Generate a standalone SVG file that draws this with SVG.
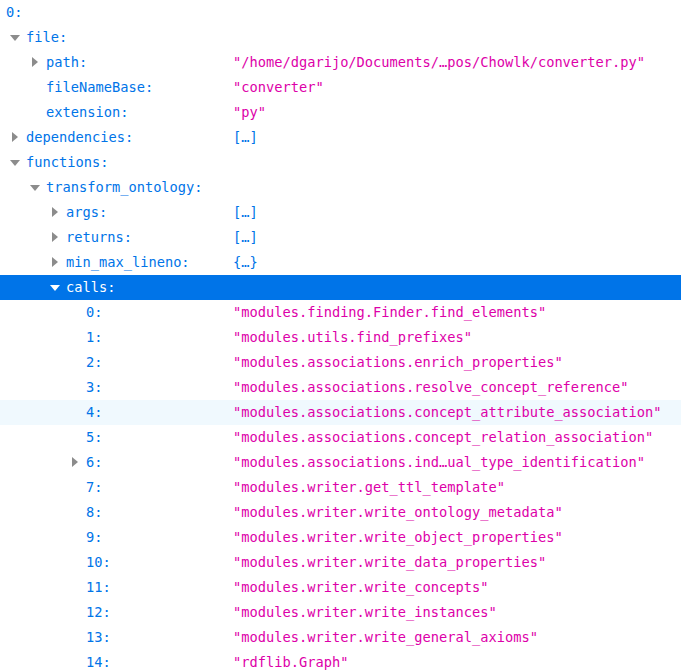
<svg xmlns="http://www.w3.org/2000/svg" width="681" height="671" viewBox="0 0 681 671">
<style>
text{font-family:"DejaVu Sans Mono",monospace;font-size:13.7px}
.k{fill:#0074e8}.s{fill:#dd00a9}.b{fill:#0074e8}
.t{fill:#8c8c8c}
</style>
<rect width="681" height="671" fill="#fff"/>
<rect x="0" y="275" width="681" height="25" fill="#0074e8"/>
<rect x="0" y="400" width="681" height="25" fill="#f0f9fe"/>
<g id="twisties" class="t">
<path d="M10 35h10l-5 6z"/>
<path d="M32 57v10l6-5z"/>
<path d="M12 132v10l6-5z"/>
<path d="M10 160h10l-5 6z"/>
<path d="M30 185h10l-5 6z"/>
<path d="M52 207v10l6-5z"/>
<path d="M52 232v10l6-5z"/>
<path d="M52 257v10l6-5z"/>
<path d="M50 285h10l-5 6z" fill="#fff"/>
<path d="M72 457v10l6-5z"/>
</g>
<g id="rows">
<text x="6" y="17" class="k">0:</text>
<text x="26" y="42" class="k">file:</text>
<text x="46" y="67" class="k">path:</text><text x="233" y="67" class="s">"/home/dgarijo/Documents/…pos/Chowlk/converter.py"</text>
<text x="46" y="92" class="k">fileNameBase:</text><text x="233" y="92" class="s">"converter"</text>
<text x="46" y="117" class="k">extension:</text><text x="233" y="117" class="s">"py"</text>
<text x="26" y="142" class="k">dependencies:</text><text x="233" y="142" class="b">[…]</text>
<text x="26" y="167" class="k">functions:</text>
<text x="46" y="192" class="k">transform_ontology:</text>
<text x="66" y="217" class="k">args:</text><text x="233" y="217" class="b">[…]</text>
<text x="66" y="242" class="k">returns:</text><text x="233" y="242" class="b">[…]</text>
<text x="66" y="267" class="k">min_max_lineno:</text><text x="233" y="267" class="b">{…}</text>
<text x="66" y="292" fill="#fff">calls:</text>
<text x="86" y="317" class="k">0:</text><text x="233" y="317" class="s">"modules.finding.Finder.find_elements"</text>
<text x="86" y="342" class="k">1:</text><text x="233" y="342" class="s">"modules.utils.find_prefixes"</text>
<text x="86" y="367" class="k">2:</text><text x="233" y="367" class="s">"modules.associations.enrich_properties"</text>
<text x="86" y="392" class="k">3:</text><text x="233" y="392" class="s">"modules.associations.resolve_concept_reference"</text>
<text x="86" y="417" class="k">4:</text><text x="233" y="417" class="s">"modules.associations.concept_attribute_association"</text>
<text x="86" y="442" class="k">5:</text><text x="233" y="442" class="s">"modules.associations.concept_relation_association"</text>
<text x="86" y="467" class="k">6:</text><text x="233" y="467" class="s">"modules.associations.ind…ual_type_identification"</text>
<text x="86" y="492" class="k">7:</text><text x="233" y="492" class="s">"modules.writer.get_ttl_template"</text>
<text x="86" y="517" class="k">8:</text><text x="233" y="517" class="s">"modules.writer.write_ontology_metadata"</text>
<text x="86" y="542" class="k">9:</text><text x="233" y="542" class="s">"modules.writer.write_object_properties"</text>
<text x="86" y="567" class="k">10:</text><text x="233" y="567" class="s">"modules.writer.write_data_properties"</text>
<text x="86" y="592" class="k">11:</text><text x="233" y="592" class="s">"modules.writer.write_concepts"</text>
<text x="86" y="617" class="k">12:</text><text x="233" y="617" class="s">"modules.writer.write_instances"</text>
<text x="86" y="642" class="k">13:</text><text x="233" y="642" class="s">"modules.writer.write_general_axioms"</text>
<text x="86" y="667" class="k">14:</text><text x="233" y="667" class="s">"rdflib.Graph"</text>
</g>
</svg>
